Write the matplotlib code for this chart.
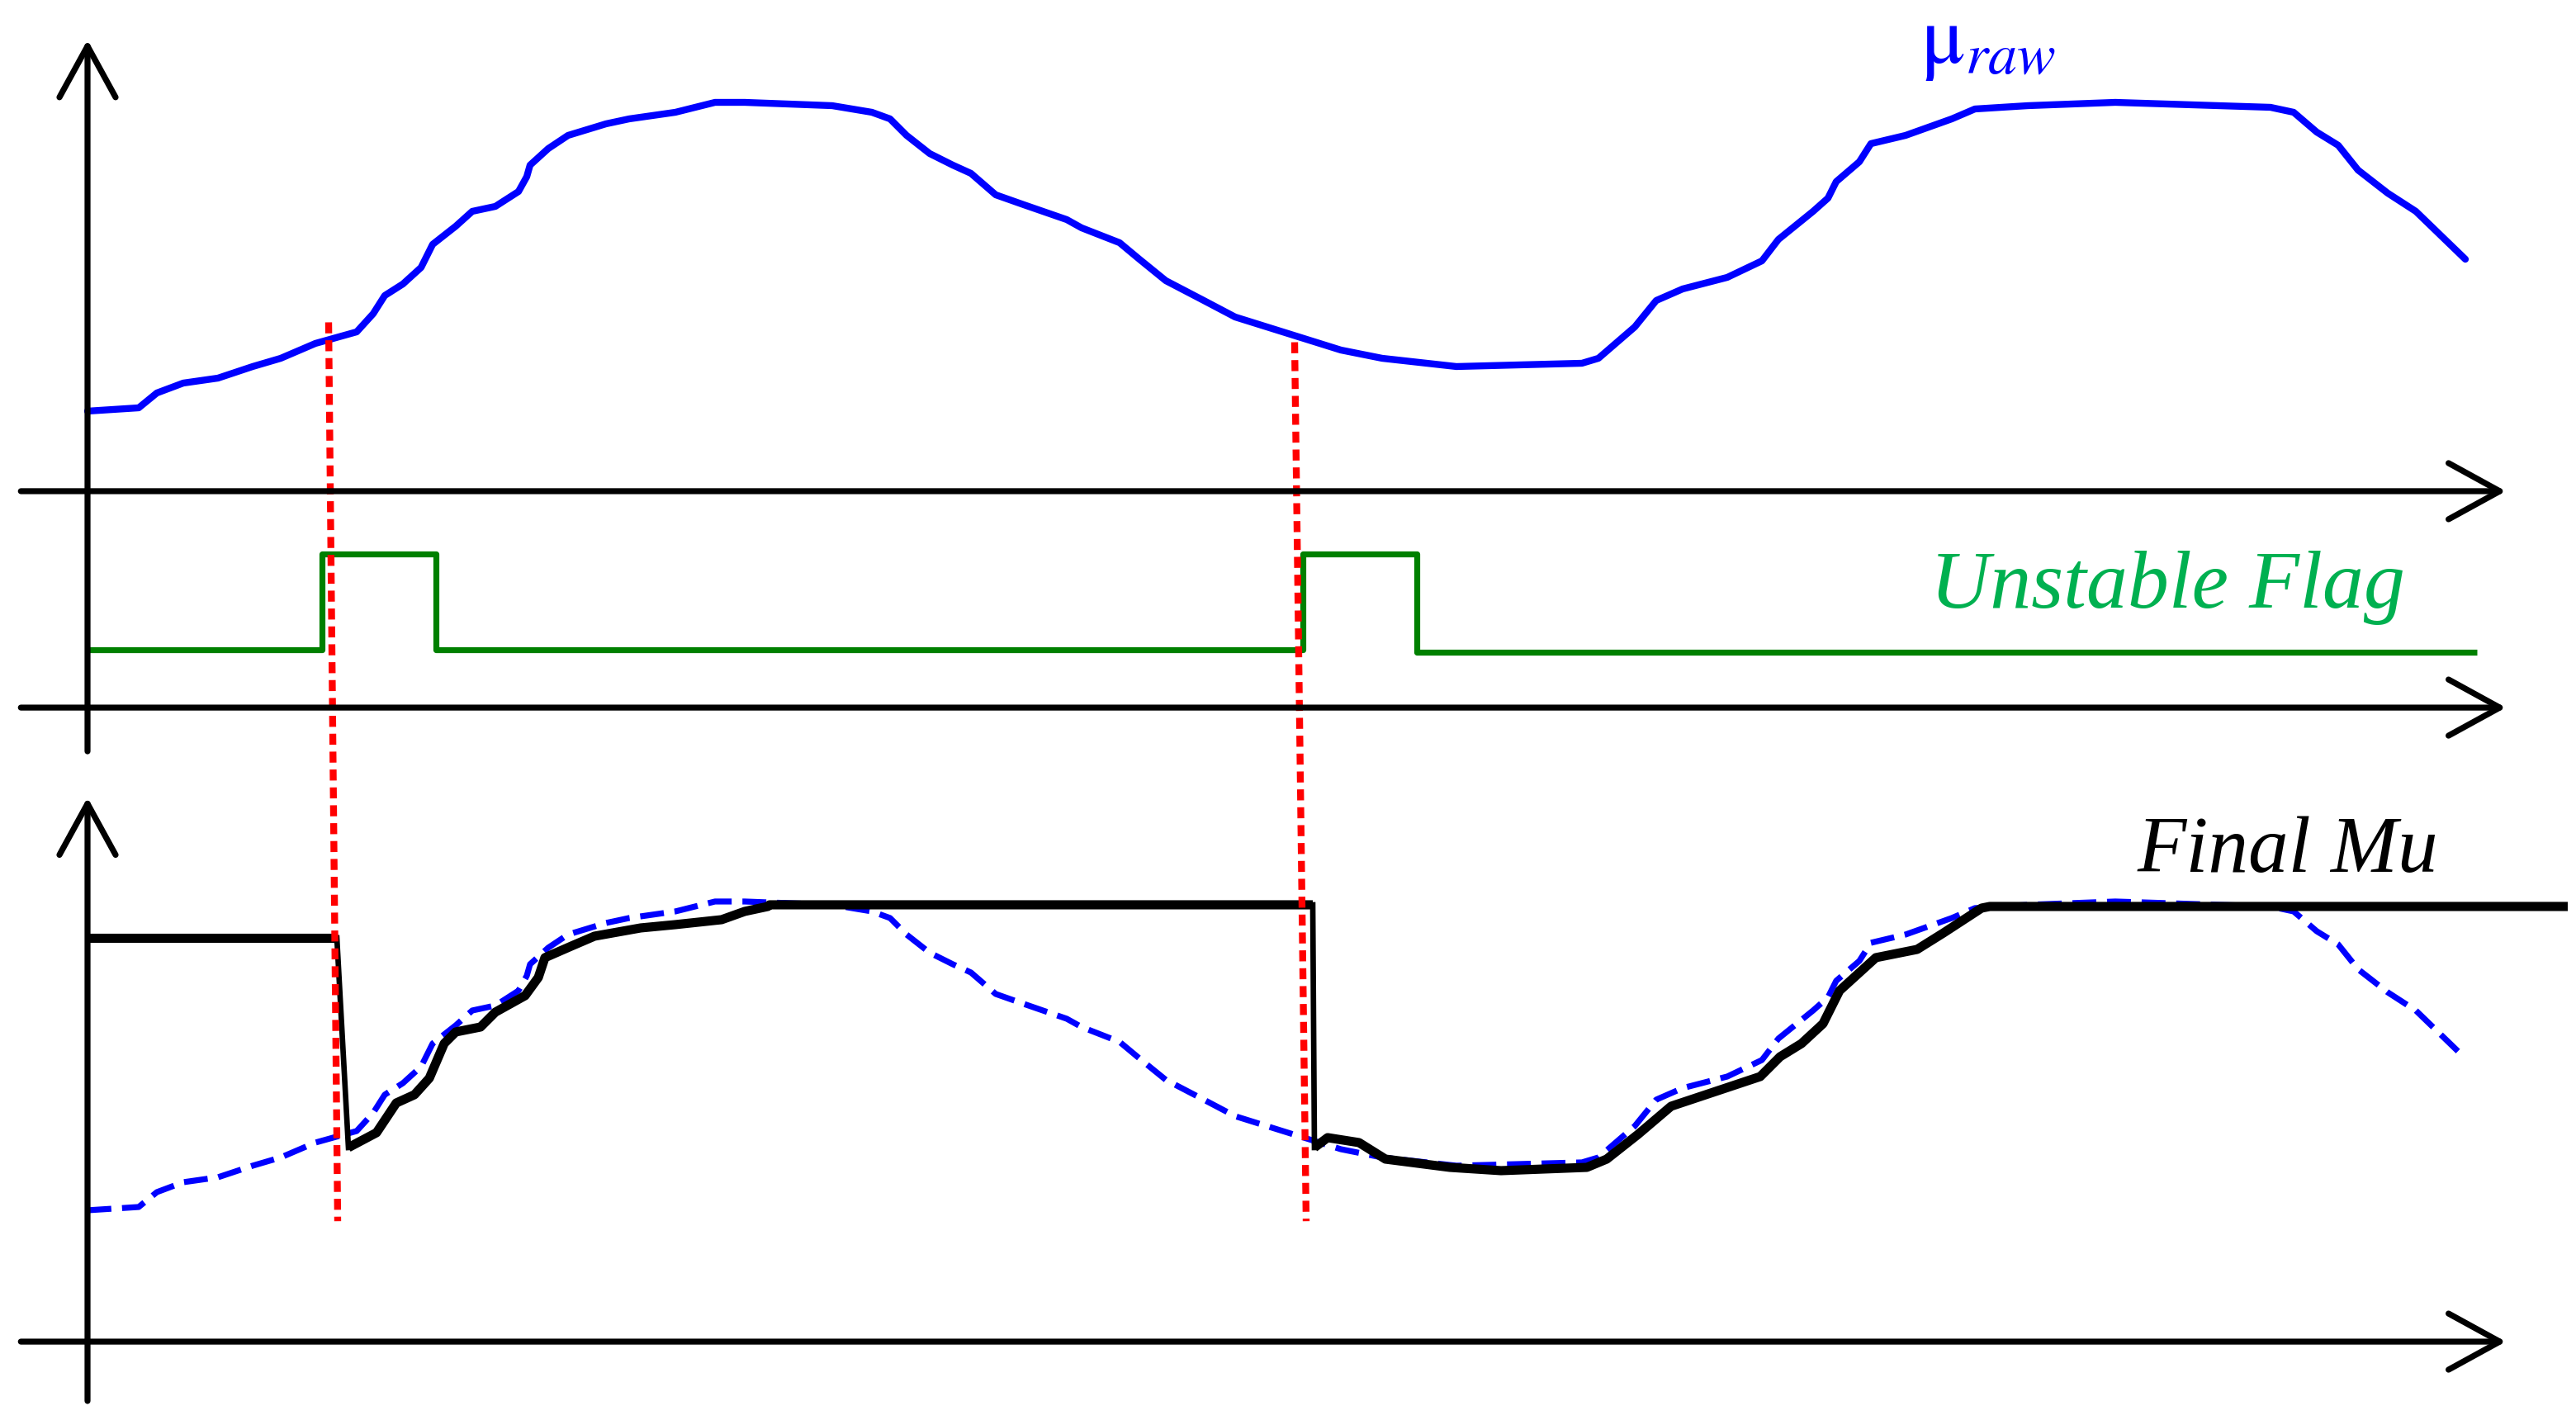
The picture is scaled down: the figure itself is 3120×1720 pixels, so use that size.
import numpy as np
import matplotlib
matplotlib.use("Agg")
import matplotlib.pyplot as plt

plt.rcParams['mathtext.fontset'] = 'stix'

# ---------------- data (time in arbitrary units) ----------------
t_raw = [0.0, 3.1, 4.2, 5.8, 7.9, 10.0, 11.7, 13.8, 16.3, 17.3, 18.0, 19.1, 20.2,
         20.9, 22.3, 23.3, 24.7, 26.1, 26.6, 26.8, 27.9, 29.1, 31.4, 32.8, 35.6,
         38.0, 39.8, 45.1, 47.5, 48.6, 49.6, 51.0, 52.4, 53.5, 55.0, 56.7, 59.3,
         60.2, 62.5, 63.7, 65.3, 67.6, 69.5, 72.7, 75.9, 78.4, 82.9, 90.5, 91.5,
         93.7, 95.0, 96.6, 99.3, 101.4, 102.4, 104.5, 105.4, 105.9, 107.3, 108.0,
         110.1, 112.9, 114.3, 117.5, 122.8, 132.2, 133.6, 135.0, 136.3, 137.5,
         139.3, 141.0, 144.0]
mu_raw = [4.9, 5.1, 6.0, 6.6, 6.9, 7.6, 8.1, 9.0, 9.7, 10.8, 11.9, 12.6, 13.6,
          15.0, 16.1, 17.0, 17.3, 18.2, 19.1, 19.8, 20.8, 21.6, 22.3, 22.6, 23.0,
          23.6, 23.6, 23.4, 23.0, 22.6, 21.6, 20.5, 19.8, 19.3, 18.0, 17.4, 16.5,
          16.0, 15.1, 14.1, 12.8, 11.6, 10.6, 9.6, 8.6, 8.1, 7.6, 7.8, 8.1,
          10.0, 11.6, 12.3, 13.0, 14.0, 15.3, 17.0, 17.8, 18.8, 20.0, 21.1,
          21.6, 22.6, 23.2, 23.4, 23.6, 23.3, 23.0, 21.8, 21.0, 19.5,
          18.1, 17.0, 14.1]

flag_t = [0.0, 14.2, 21.1, 73.6, 80.5, 144.7]
flag_v = [0, 1, 0, 1, -0.03, -0.03]

# detected instability onsets (top / bottom of the marker lines)
event_t_top = [14.6, 73.1]
event_t_bottom = [15.15, 73.8]

# final (held) friction value, three segments
final_t_1 = [0.0, 15.1]
final_mu_1 = [21.4, 21.4]
final_t_2 = [15.8, 17.5, 18.7, 19.8, 20.7, 21.6, 22.3, 23.8, 24.7, 26.5, 27.3,
             27.7, 29.3, 30.7, 33.5, 35.6, 38.4, 39.8, 41.2, 41.3, 74.2]
final_mu_2 = [8.7, 9.6, 11.4, 11.9, 12.9, 15.0, 15.7, 16.0, 16.9, 17.9, 19.0,
              20.2, 20.9, 21.5, 22.0, 22.2, 22.5, 23.0, 23.3, 23.4, 23.4]
final_t_3 = [74.3, 75.1, 77.0, 78.6, 82.5, 85.6, 90.8, 92.0, 93.9, 95.9, 97.4,
             101.3, 102.5, 103.8, 105.1, 106.1, 108.3, 110.8, 112.4, 114.7,
             115.2, 150.2]
final_mu_3 = [8.7, 9.3, 9.0, 8.0, 7.5, 7.3, 7.5, 8.0, 9.5, 11.2, 11.7,
              13.0, 14.2, 15.0, 16.2, 18.2, 20.2, 20.7, 21.7, 23.2,
              23.3, 23.3]

labels = {"raw": r"$\mathrm{\mu}_{raw}$", "flag": "Unstable Flag", "final": "Final Mu"}

# ---------------- figure ----------------
fig = plt.figure(figsize=(15.6, 8.6), dpi=200)
XLIM = (-5.3, 150.7)

ax_top = fig.add_axes([0, 0.6535, 1, 0.3465])
ax_flag = fig.add_axes([0, 0.5, 1, 0.1512])
ax_bot = fig.add_axes([0, 0.04884, 1, 0.4163])
ov = fig.add_axes([0, 0, 1, 1])
for a in (ax_top, ax_flag, ax_bot, ov):
    a.set_xlim(*XLIM)
    a.axis('off')
    a.patch.set_visible(False)
ax_top.set_ylim(0, 29.8)
ax_flag.set_ylim(-0.629, 1.612)
ax_bot.set_ylim(-3.6, 32.2)
ov.set_ylim(0, 1)

BLUE = '#0000FF'
# top: raw mu
ax_top.plot(t_raw, mu_raw, color=BLUE, lw=3.0, clip_on=False,
            solid_capstyle='round', solid_joinstyle='round')

# flag
ax_flag.step(flag_t, flag_v, where='post', color='#008000', lw=2.6,
             clip_on=False, solid_capstyle='butt')

# bottom: raw (dashed) + final
ax_bot.plot(t_raw, mu_raw, color=BLUE, lw=2.6, ls=(0, (4.0, 1.8)),
            clip_on=False)
segs = [(final_t_1, final_mu_1), (final_t_2, final_mu_2), (final_t_3, final_mu_3)]
for (ta, ma), (tb, mb) in zip(segs[:-1], segs[1:]):
    ax_bot.plot([ta[-1], tb[0]], [ma[-1], mb[0]], color='black', lw=2.4,
                clip_on=False)
for ts, ms in segs:
    ax_bot.plot(ts, ms, color='black', lw=4.0, clip_on=False,
                solid_capstyle='butt', solid_joinstyle='round')

# red event markers spanning the panels
for tt, tb_, ytop in zip(event_t_top, event_t_bottom, [0.773, 0.759]):
    ov.plot([tt, tb_], [ytop, 0.140], color='#FF0000', lw=3.0,
            ls=(0, (1.6, 1.0)), zorder=1)

# axes arrows (figure fraction)
arrow_kw = dict(arrowstyle='->,head_length=0.62,head_width=0.34',
                mutation_scale=36, lw=2.6, color='black',
                shrinkA=0, shrinkB=0)
def arrow(x0, y0, x1, y1):
    ov.annotate('', xy=(x1, y1), xytext=(x0, y0), xycoords='figure fraction',
                textcoords='figure fraction', arrowprops=arrow_kw)

xa = 53 / 1560
arrow(xa, 0.4709, xa, 0.9719)        # top y-axis
arrow(0.0081, 0.6541, 0.9728, 0.6541)  # top x-axis
arrow(0.0081, 0.5017, 0.9728, 0.5017)  # flag x-axis
arrow(xa, 0.0134, xa, 0.4384)        # bottom y-axis
arrow(0.0081, 0.0552, 0.9728, 0.0552)  # bottom x-axis

# labels
fig.text(0.7455, 0.9558, labels["raw"], color=BLUE, fontsize=36,
         va='baseline', ha='left')
fig.text(0.7494, 0.5721, labels["flag"], color='#00B050', fontsize=36,
         family='Liberation Serif', style='italic', va='baseline', ha='left')
fig.text(0.8295, 0.386, labels["final"], color='black', fontsize=35,
         family='Liberation Serif', style='italic', va='baseline', ha='left')

fig.savefig('out.png', dpi=200, facecolor='white')
